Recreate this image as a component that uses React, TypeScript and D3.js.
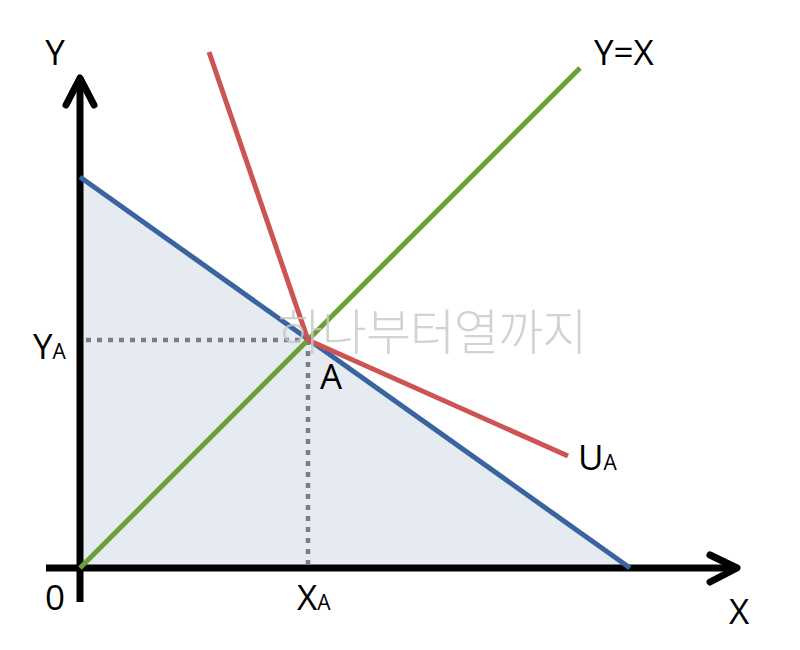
import React from "react";
import * as d3 from "d3";

// values, in chart units
const budgetLine = [
  { x: 0, y: 7.82 },
  { x: 11, y: 0 },
];
const diagonal = [
  { x: 0, y: 0 },
  { x: 10, y: 10 },
];
const pointA = { x: 4.56, y: 4.56 };
const indifference = [
  { x: 2.58, y: 10.32 },
  { x: 4.56, y: 4.56 },
  { x: 9.76, y: 2.24 },
];
const xAxisExtent = [-0.68, 13.14];
const yAxisExtent = [-0.68, 9.8];
const watermark = "하나부터열까지";

const W = 800;
const H = 650;
const FONT = "'Open Sans', 'Noto Sans', sans-serif";

const App = () => {
  const x = d3.scaleLinear().domain([0, 13]).range([80, 730]);
  const y = d3.scaleLinear().domain([0, 10]).range([568, 68]);
  const line = d3
    .line<any>()
    .x((d) => x(d.x))
    .y((d) => y(d.y));

  const area = [
    { x: 0, y: 0 },
    budgetLine[0],
    budgetLine[1],
    { x: 0, y: 0 },
  ];

  const xTip = x(xAxisExtent[1]);
  const yTip = y(yAxisExtent[1]);
  const x0 = x(0);
  const y0 = y(0);

  const label = (
    main: string,
    sub: string | null,
    px: number,
    py: number,
    anchor: "start" | "middle" | "end" = "start"
  ) => (
    <text x={px} y={py} fontFamily={FONT} fontSize={35} fill="#000" textAnchor={anchor}>
      {main}
      {sub && <tspan fontSize={21}>{sub}</tspan>}
    </text>
  );

  return (
    <svg
      width={W}
      height={H}
      style={{ position: "absolute", left: 0, top: 0, background: "#fff" }}
    >
      {/* feasible region */}
      <path d={line(area) as string} fill="#e6ebf2" stroke="none" />

      {/* axes */}
      <g stroke="#000" strokeWidth={7} fill="none" strokeLinecap="butt">
        <line x1={x(xAxisExtent[0])} y1={y0} x2={xTip - 3} y2={y0} />
        <line x1={x0} y1={y(yAxisExtent[0])} x2={x0} y2={yTip + 3} />
      </g>
      <g stroke="#000" strokeWidth={7} fill="none" strokeLinecap="round" strokeLinejoin="round">
        <polyline points={`${xTip - 27},${y0 - 13} ${xTip},${y0} ${xTip - 27},${y0 + 14}`} />
        <polyline points={`${x0 - 14},${yTip + 27} ${x0},${yTip} ${x0 + 14},${yTip + 27}`} />
      </g>

      {/* guide lines to A */}
      <g stroke="#7b7d85" strokeWidth={4.5} strokeDasharray="5 6" fill="none">
        <line x1={x0 + 6} y1={y(pointA.y)} x2={x(pointA.x)} y2={y(pointA.y)} />
        <line x1={x(pointA.x)} y1={y(pointA.y)} x2={x(pointA.x)} y2={y0 + 2} />
      </g>

      <path d={line(diagonal) as string} stroke="#6aa137" strokeWidth={5} fill="none" />
      <path d={line(budgetLine) as string} stroke="#3a64a0" strokeWidth={5} fill="none" />
      <path
        d={line(indifference) as string}
        stroke="#cc5452"
        strokeWidth={5}
        fill="none"
        strokeLinejoin="round"
      />

      {/* labels */}
      {label("Y", null, x0 - 25, 65, "middle")}
      {label("Y=X", null, x(10) + 14, 65)}
      {label("Y", "A", x0 - 47, y(pointA.y) + 19)}
      {label("A", null, x(pointA.x) + 12, y(pointA.y) + 49)}
      {label("U", "A", x(9.76) + 10, y(2.24) + 14)}
      {label("0", null, x0 - 35, 610)}
      {label("X", "A", x(pointA.x) - 11, 610)}
      {label("X", null, xTip - 8, 624)}

      {/* watermark */}
      <text
        x={432}
        y={350}
        textAnchor="middle"
        fontFamily="'Noto Sans CJK KR', sans-serif"
        fontWeight={300}
        fontSize={49}
        letterSpacing={-1}
        fill="#c8c8c8"
        opacity={0.8}
      >
        {watermark}
      </text>
    </svg>
  );
};

export default App;
